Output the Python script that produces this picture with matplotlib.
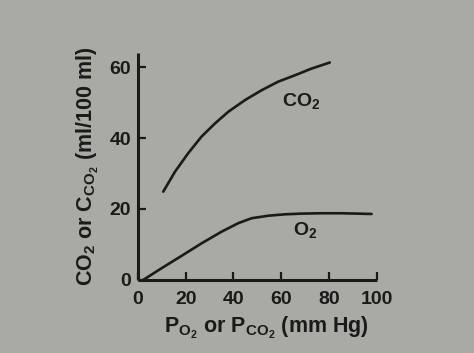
import matplotlib
matplotlib.use("Agg")
import matplotlib.pyplot as plt

# Data
co2_x = [10.6, 15.5, 21.0, 26.6, 32.2, 37.8, 44.8, 51.8, 58.7, 65.7, 72.7, 80.3]
co2_y = [24.9, 30.5, 35.7, 40.4, 44.1, 47.4, 50.7, 53.5, 55.9, 57.7, 59.6, 61.3]
o2_x = [2.2, 9.9, 18.3, 26.6, 35.0, 42.0, 47.6, 54.5, 61.5, 68.5, 76.9, 85.2, 97.8]
o2_y = [0.0, 3.3, 6.8, 10.3, 13.6, 16.0, 17.4, 18.1, 18.5, 18.7, 18.8, 18.8, 18.6]
x_ticks = [0, 20, 40, 60, 80, 100]
y_ticks = [0, 20, 40, 60]

plt.rcParams['font.family'] = ['Liberation Sans', 'DejaVu Sans']
plt.rcParams['mathtext.default'] = 'regular'
ink = '#1a1a1a'
bg = '#a9aaa3'

fig = plt.figure(figsize=(4.74, 3.53), dpi=100, facecolor=bg)
ax = fig.add_axes([0.291, 0.207, 0.504, 0.643])
ax.set_facecolor(bg)

ax.plot(co2_x, co2_y, color=ink, lw=1.9, solid_capstyle='round', solid_joinstyle='round')
ax.plot(o2_x, o2_y, color=ink, lw=1.9, solid_capstyle='round', solid_joinstyle='round')

ax.text(68.3, 50.4, 'CO$_2$', fontsize=14, fontweight='bold', color=ink, ha='center', va='center')
ax.text(69.9, 14.1, 'O$_2$', fontsize=14, fontweight='bold', color=ink, ha='center', va='center')

ax.set_xlim(0, 100)
ax.set_ylim(0, 64)
for s in ['top', 'right']:
    ax.spines[s].set_visible(False)
for s in ['left', 'bottom']:
    ax.spines[s].set_linewidth(2.2)
    ax.spines[s].set_color(ink)
    ax.spines[s].set_capstyle('butt')

ax.set_xticks(x_ticks)
ax.set_yticks(y_ticks)
ax.tick_params(direction='in', length=6, width=1.6, color=ink, labelsize=14)
ax.tick_params(axis='x', pad=8)
ax.tick_params(axis='y', pad=5)
for lab in ax.get_xticklabels() + ax.get_yticklabels():
    lab.set_fontweight('bold')
    lab.set_color(ink)

ax.set_xlabel('P$_{O_2}$ or P$_{CO_2}$ (mm Hg)', fontsize=15.5, fontweight='bold', color=ink)
ax.xaxis.set_label_coords(0.54, -0.155)
ax.set_ylabel('CO$_2$ or C$_{CO_2}$ (ml/100 ml)', fontsize=15.5, fontweight='bold', color=ink, labelpad=6)

fig.savefig('out.png', dpi=100, facecolor=bg)
